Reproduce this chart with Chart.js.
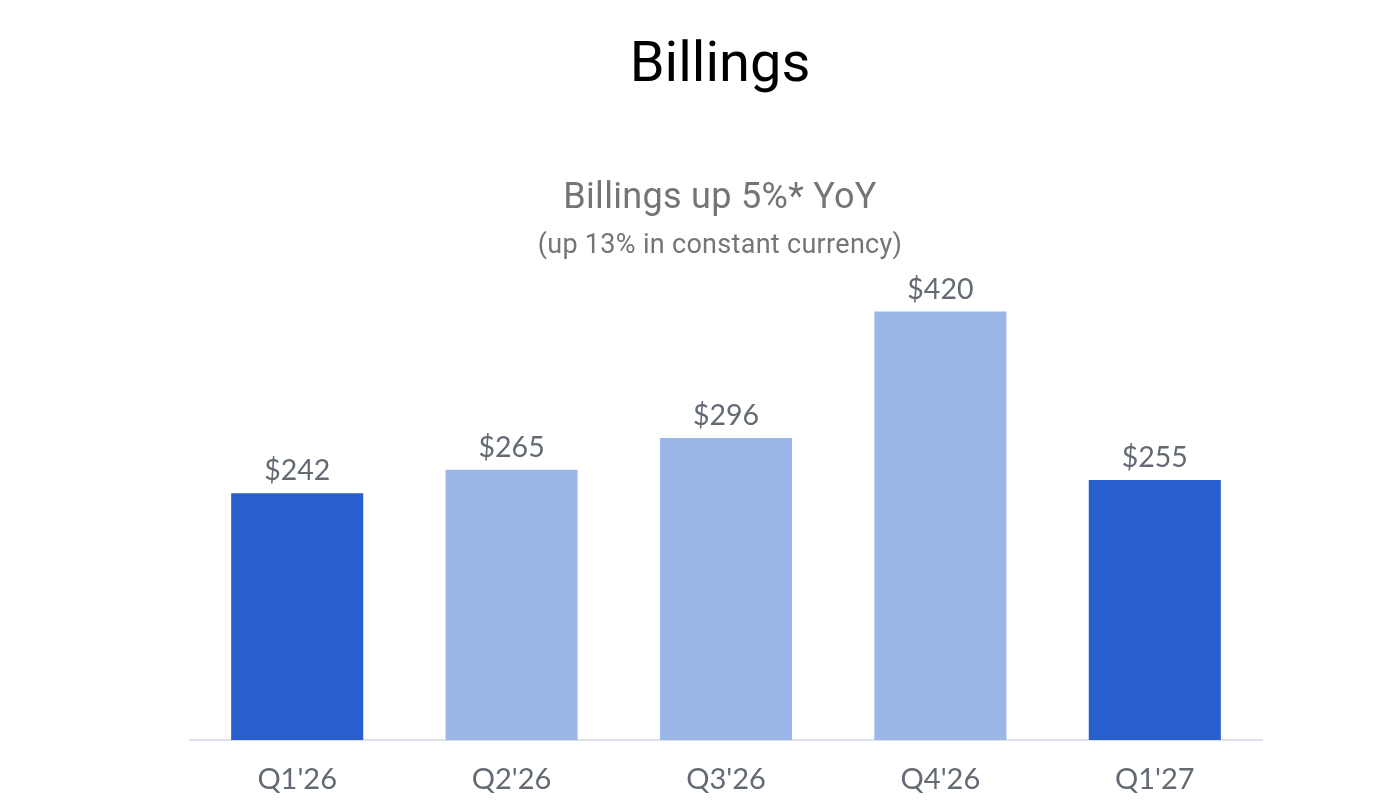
<!DOCTYPE html>
<html>
<head>
<meta charset="utf-8">
<script src="https://cdn.jsdelivr.net/npm/chart.js@4.4.1/dist/chart.umd.min.js"></script>
<style>
  html, body { margin: 0; padding: 0; background: #ffffff; width: 1380px; height: 812px; overflow: hidden; }
  #wrap { position: relative; width: 1380px; height: 812px; }
  canvas { position: absolute; left: 0; top: 0; }
  .t { position: absolute; left: 0; width: 1440px; text-align: center; font-family: Roboto, "Open Sans", sans-serif; white-space: nowrap; }
  #title { top: 29px; font-size: 56px; color: #000000; }
  #sub1 { top: 175px; font-size: 36px; color: #757575; letter-spacing: 0.3px; }
  #sub2 { top: 228px; font-size: 27px; color: #757575; letter-spacing: 0.3px; }
</style>
</head>
<body>
<div id="wrap">
  <canvas id="c" width="1380" height="812"></canvas>
  <div class="t" id="title">Billings</div>
  <div class="t" id="sub1">Billings up 5%* YoY</div>
  <div class="t" id="sub2">(up 13% in constant currency)</div>
</div>
<script>
const categories = ["Q1'26", "Q2'26", "Q3'26", "Q4'26", "Q1'27"];
const billings = [242, 265, 296, 420, 255];
const barColors = ["#285ECD", "#9AB7E7", "#9AB7E7", "#9AB7E7", "#285ECD"];
const valueLabels = ["$242", "$265", "$296", "$420", "$255"];

const valueLabelPlugin = {
  id: 'valueLabels',
  afterDatasetsDraw(chart) {
    const ctx = chart.ctx;
    const meta = chart.getDatasetMeta(0);
    ctx.save();
    ctx.font = '28.5px Lato, sans-serif';
    ctx.fillStyle = '#636A74';
    ctx.textAlign = 'center';
    ctx.textBaseline = 'alphabetic';
    meta.data.forEach((bar, i) => {
      ctx.fillText(valueLabels[i], bar.x, bar.y - 13);
    });
    ctx.restore();
  }
};

new Chart(document.getElementById('c'), {
  type: 'bar',
  data: {
    labels: categories,
    datasets: [{
      data: billings,
      backgroundColor: barColors,
      borderWidth: 0,
      categoryPercentage: 1.0,
      barPercentage: 0.616
    }]
  },
  options: {
    responsive: false,
    animation: false,
    devicePixelRatio: 1,
    layout: { padding: { left: 190, right: 118, top: 230, bottom: 0 } },
    plugins: { legend: { display: false }, tooltip: { enabled: false }, title: { display: false } },
    scales: {
      y: { display: false, min: 0, max: 500 },
      x: {
        afterFit(scale) { scale.height = 72; },
        grid: { display: false, drawTicks: false },
        border: { display: true, color: '#DDE3EA', width: 2 },
        ticks: { color: '#636A74', font: { family: 'Lato', size: 29 }, padding: 22 }
      }
    }
  },
  plugins: [valueLabelPlugin]
});
</script>
</body>
</html>
